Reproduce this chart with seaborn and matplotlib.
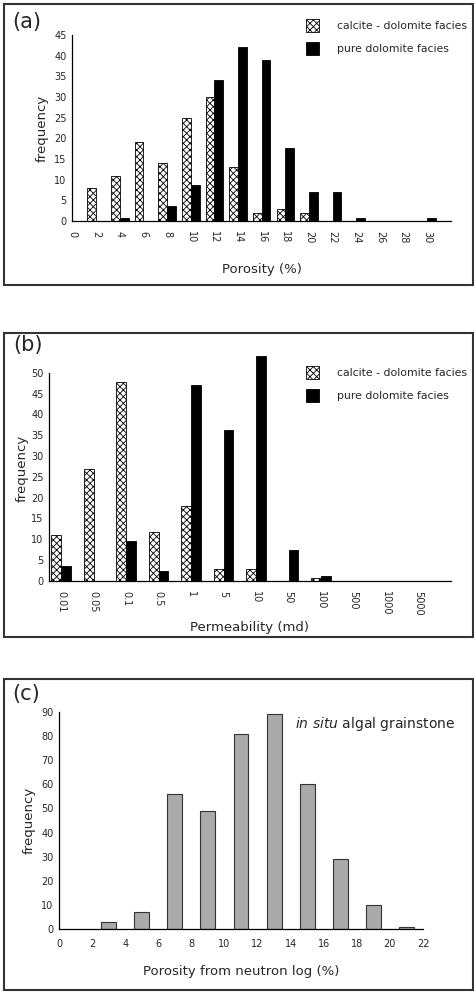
import matplotlib
matplotlib.use("Agg")
import matplotlib.pyplot as plt
import seaborn as sns
import pandas as pd
from matplotlib.patches import Rectangle

sns.set_style("white")
plt.rcParams['font.family'] = ['DejaVu Sans']
plt.rcParams['hatch.linewidth'] = 0.6

# ---- data ----
por_cats = ["0","2","4","6","8","10","12","14","16","18","20","22","24","26","28","30"]
por_calcite = [0, 8, 11, 19, 14, 25, 30, 13, 2, 3, 2, 0, 0, 0, 0, 0]
por_dolomite = [0, 0, 0.7, 0, 3.7, 8.8, 34, 42, 39, 17.7, 7, 7, 0.7, 0, 0, 0.7]

perm_cats = ["0.01","0.05","0.1","0.5","1","5","10","50","100","500","1000","5000"]
perm_calcite = [11, 26.8, 47.7, 11.7, 18, 2.8, 2.8, 0, 0.7, 0, 0, 0]
perm_dolomite = [3.5, 0, 9.5, 2.3, 47, 36.3, 54, 7.5, 1.3, 0, 0, 0]

neut_x = [3, 5, 7, 9, 11, 13, 15, 17, 19, 21]
neut_freq = [3, 7, 56, 49, 81, 89, 60, 29, 10, 1]

series = ["calcite - dolomite facies", "pure dolomite facies"]

W, H = 474, 992
fig = plt.figure(figsize=(W/100, H/100), dpi=100)

def ax_px(l, t, r, b):
    return fig.add_axes([l/W, 1-b/H, (r-l)/W, (b-t)/H])

def frame(t, b):
    fig.patches.append(Rectangle((4/W, 1-b/H), 469/W, (b-t)/H, transform=fig.transFigure,
                                 fill=False, lw=1.5, ec="#333333"))

def style(ax, ymax_tick, step):
    for s in ["top", "right"]:
        ax.spines[s].set_visible(False)
    ax.spines["left"].set_bounds(0, ymax_tick)
    ax.set_yticks(range(0, ymax_tick+1, step))
    ax.tick_params(axis="y", direction="inout", length=6, width=0.8, labelsize=7, pad=1)
    ax.tick_params(axis="x", direction="inout", length=7, width=0.8, labelsize=7)
    for sp in ["left", "bottom"]:
        ax.spines[sp].set_color("black"); ax.spines[sp].set_linewidth(0.9)

def grouped(ax, cats, a, b, width):
    df = pd.DataFrame({"cat": cats*2, "val": a+b,
                       "series": [series[0]]*len(cats) + [series[1]]*len(cats)})
    sns.barplot(data=df, x="cat", y="val", hue="series", order=cats, hue_order=series,
                palette=["white", "black"], width=width, edgecolor="black", linewidth=0.6,
                ax=ax, legend=False)
    for p in ax.patches[:len(cats)]:
        p.set_hatch("xxxxx")
    return df

# ---- (a) ----
frame(4, 285)
axa = ax_px(72, 35, 451, 221)
grouped(axa, por_cats, por_calcite, por_dolomite, 0.74)
axa.set_xlim(-0.02, 16)
axa.set_ylim(0, 45)
style(axa, 45, 5)
axa.set_xticks(range(17))
axa.set_xticklabels(por_cats + [""], rotation=-90)
axa.set_xlabel("Porosity (%)", fontsize=9.5, labelpad=14)
axa.set_ylabel("frequency", fontsize=9.5, labelpad=4)
fig.text(12/W, 1-22/H, "(a)", fontsize=15, va="center")

# ---- (b) ----
frame(333, 637)
axb = ax_px(49, 356, 451, 581)
grouped(axb, perm_cats, perm_calcite, perm_dolomite, 0.6)
axb.set_xlim(-0.37, 12)
axb.set_ylim(0, 54)
style(axb, 50, 5)
axb.set_xticks(range(13))
axb.set_xticklabels(perm_cats + [""], rotation=-90)
axb.set_xlabel("Permeability (md)", fontsize=9.5, labelpad=4)
axb.set_ylabel("frequency", fontsize=9.5, labelpad=2)
fig.text(13/W, 1-345/H, "(b)", fontsize=15, va="center")

# legends
for ax_, y0 in [(axa, 26), (axb, 373)]:
    fig.patches.append(Rectangle((306/W, 1-(y0+6)/H), 13/W, 13/H, transform=fig.transFigure,
                                 facecolor="white", edgecolor="black", lw=0.6, hatch="xxxxx"))
    fig.patches.append(Rectangle((306/W, 1-(y0+29)/H), 13/W, 13/H, transform=fig.transFigure,
                                 facecolor="black", edgecolor="black", lw=0.6))
    fig.text(337/W, 1-y0/H, series[0], fontsize=7.8, va="center")
    fig.text(337/W, 1-(y0+23)/H, series[1], fontsize=7.8, va="center")

# ---- (c) ----
frame(679, 990)
axc = ax_px(59, 712, 423, 929)
sns.barplot(x=neut_x, y=neut_freq, native_scale=True, width=0.45, color="#aaaaaa",
            edgecolor="#333333", linewidth=0.8, saturation=1, ax=axc)
axc.set_xlim(0, 22)
axc.set_ylim(0, 90)
style(axc, 90, 10)
axc.set_xticks(range(0, 23, 2))
axc.set_xticklabels([str(v) for v in range(0, 23, 2)])
axc.set_xlabel("Porosity from neutron log (%)", fontsize=9.5, labelpad=12)
axc.set_ylabel("frequency", fontsize=9.5, labelpad=4)
fig.text(12/W, 1-694/H, "(c)", fontsize=15, va="center")
fig.text(455/W, 1-724/H, r"$\it{in\ situ}$ algal grainstone", fontsize=10, ha="right", va="center")

fig.savefig("out.png", dpi=100)
